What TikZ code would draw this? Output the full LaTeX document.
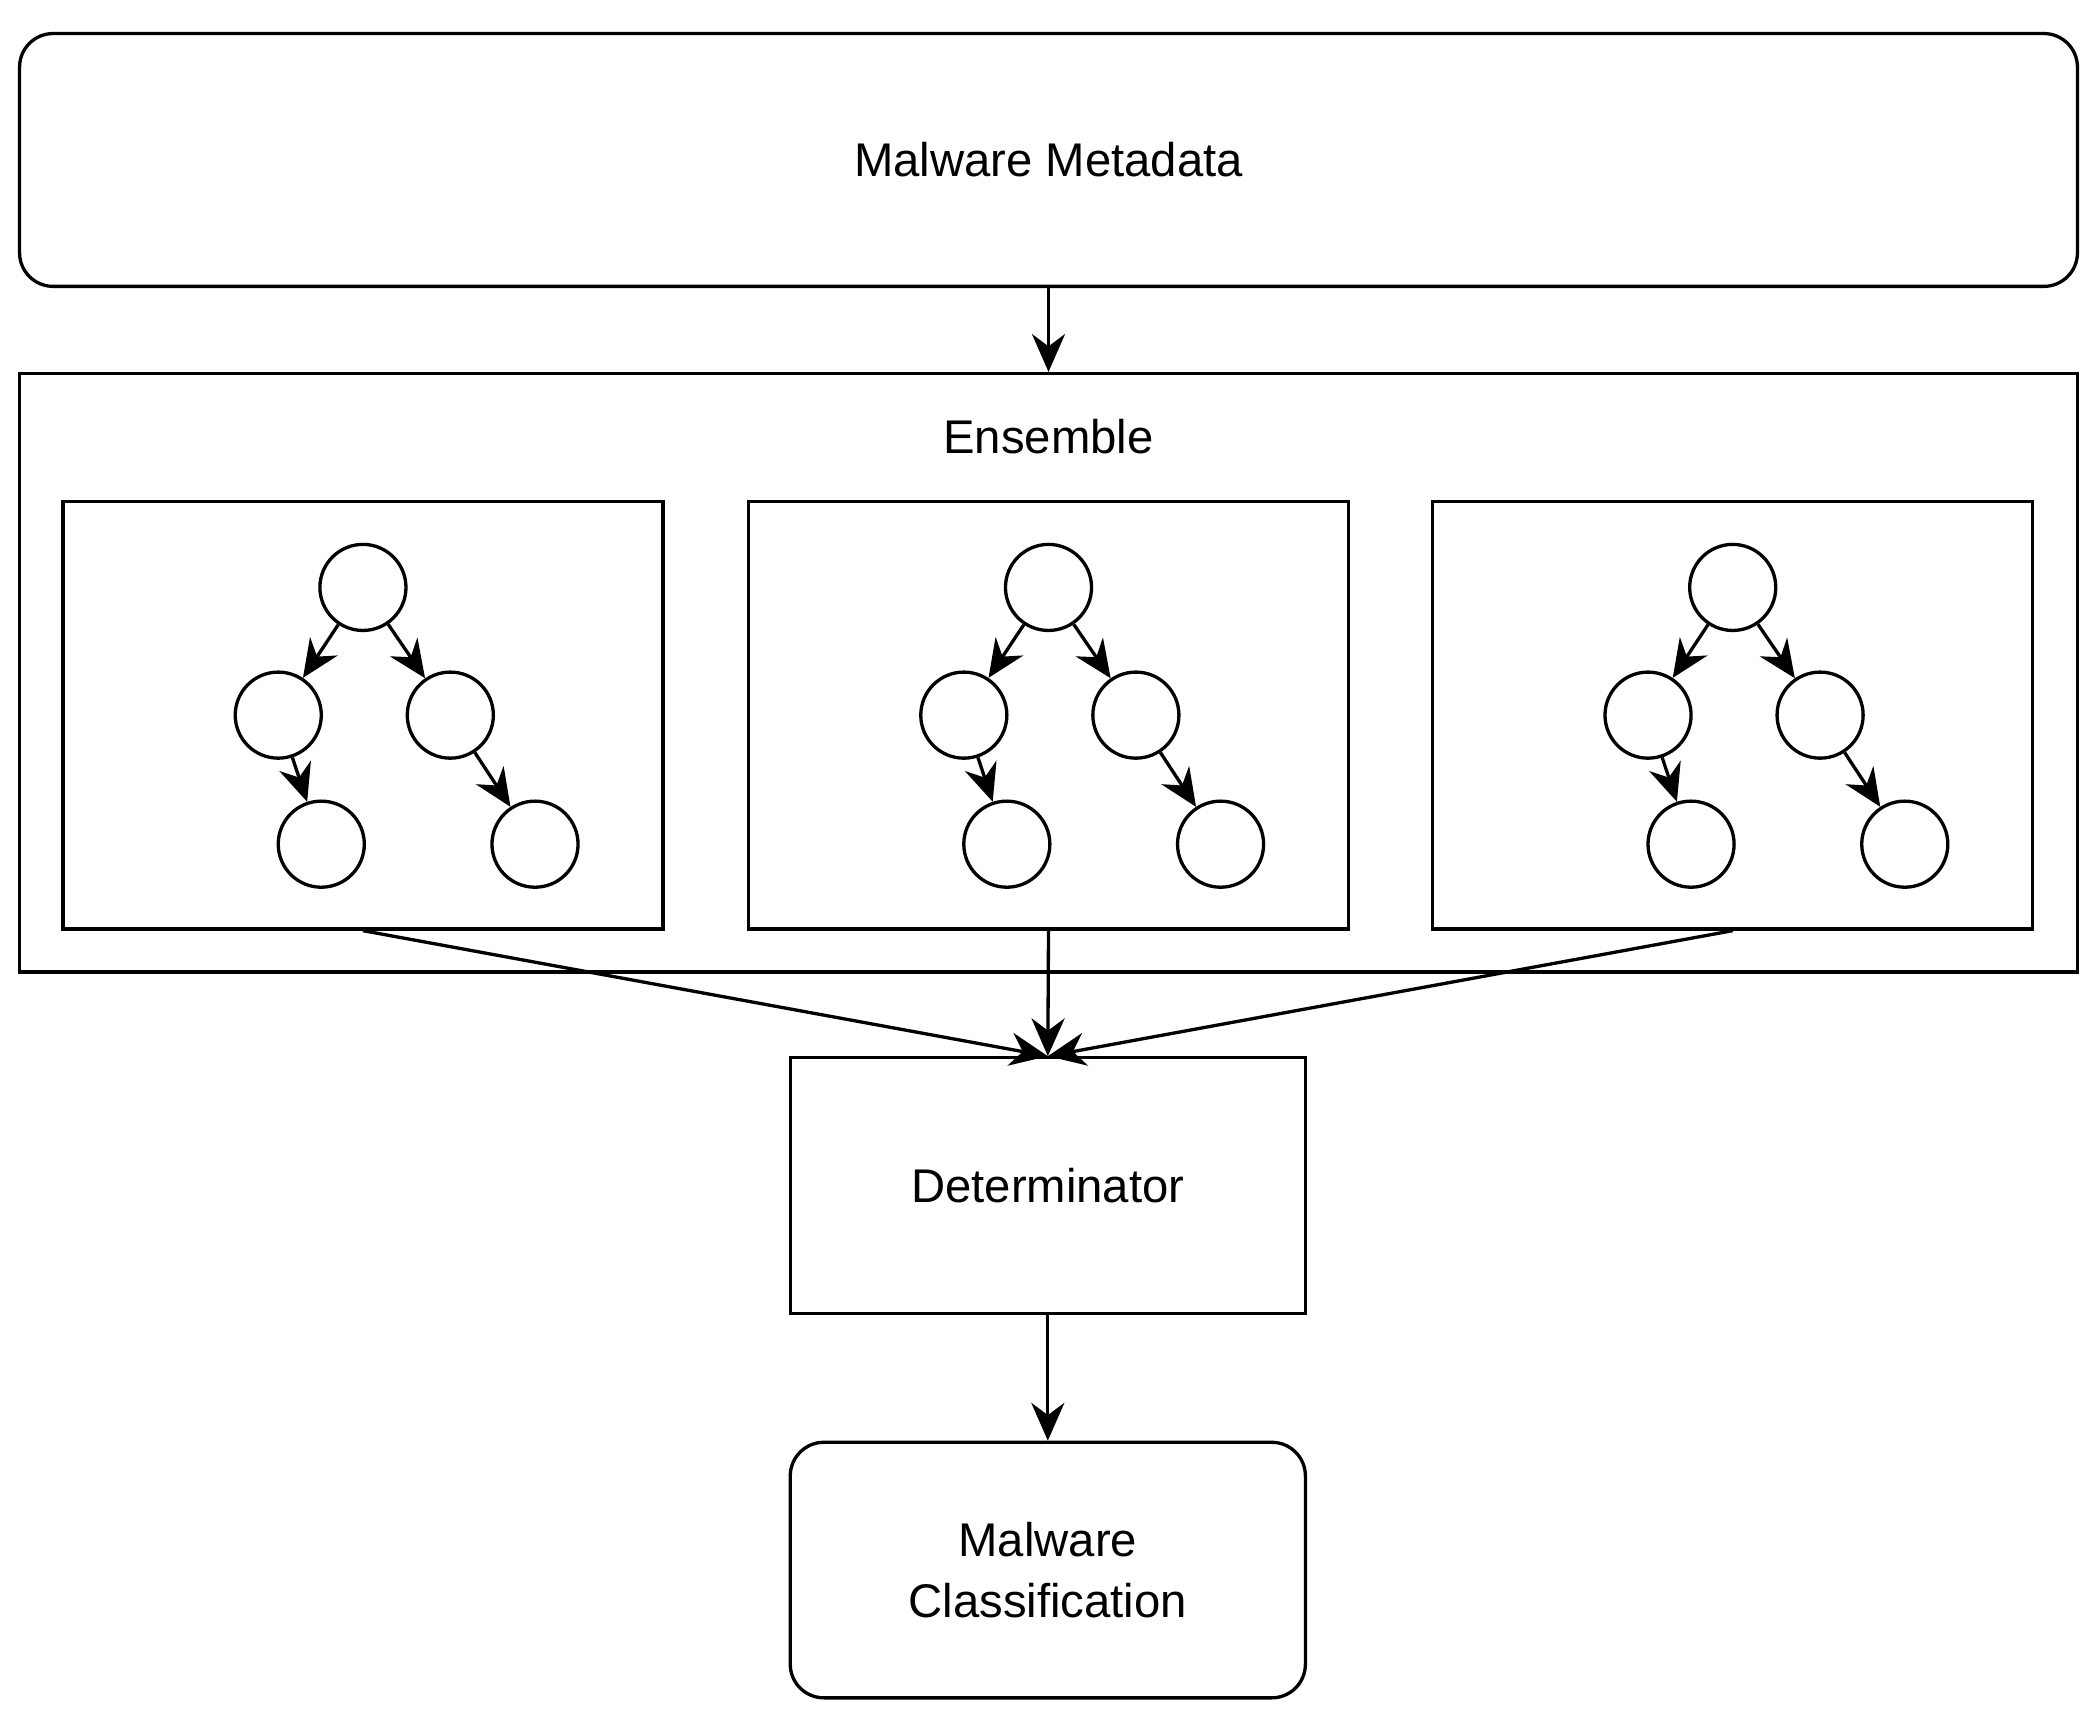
\documentclass[tikz,border=0pt]{standalone}
\usepackage{fontspec}
\setmainfont{Liberation Sans}
\usetikzlibrary{arrows.meta}
\begin{document}
\begin{tikzpicture}[x=0.01cm,y=-0.01cm,
  box/.style={draw,line width=0.7pt,inner sep=0pt},
  circ/.style={draw,circle,line width=0.7pt,minimum size=0.64cm,inner sep=0pt},
  arr/.style={line width=0.7pt,-{Stealth[length=8pt,width=7pt]}},
  every node/.style={font=\fontsize{10}{13}\selectfont}]
\useasboundingbox (0,0) rectangle (1560,1282);
\node[box,rounded corners=0.25cm,minimum width=15.3cm,minimum height=1.88cm] (meta) at (780,119) {Malware Metadata};
\node[box,minimum width=15.3cm,minimum height=4.45cm] (ens) at (780,500.5) {};
\node (enslabel) at (780,325) {Ensemble};
\foreach \i/\c in {1/270,2/780,3/1289}{
  \node[box,minimum width=4.46cm,minimum height=3.18cm] (b\i) at (\c,532) {};
  \node[circ] (r\i) at (\c,437) {};
  \node[circ] (l\i) at ({\c-63},532) {};
  \node[circ] (q\i) at ({\c+65},532) {};
  \node[circ] (g\i) at ({\c-31},628) {};
  \node[circ] (h\i) at ({\c+128},628) {};
  \draw[arr] (r\i) -- (l\i);
  \draw[arr] (r\i) -- (q\i);
  \draw[arr] (l\i) -- (g\i);
  \draw[arr] (q\i) -- (h\i);
}
\node[box,minimum width=3.83cm,minimum height=1.9cm] (det) at (779.5,882) {Determinator};
\node[box,rounded corners=0.25cm,minimum width=3.83cm,minimum height=1.9cm,align=center] (cls) at (779.5,1168) {Malware\\Classification};
\draw[arr] (meta) -- (ens);
\draw[arr] (b1.south) -- (det.north);
\draw[arr] (b2.south) -- (det.north);
\draw[arr] (b3.south) -- (det.north);
\draw[arr] (det) -- (cls);
\end{tikzpicture}
\end{document}
